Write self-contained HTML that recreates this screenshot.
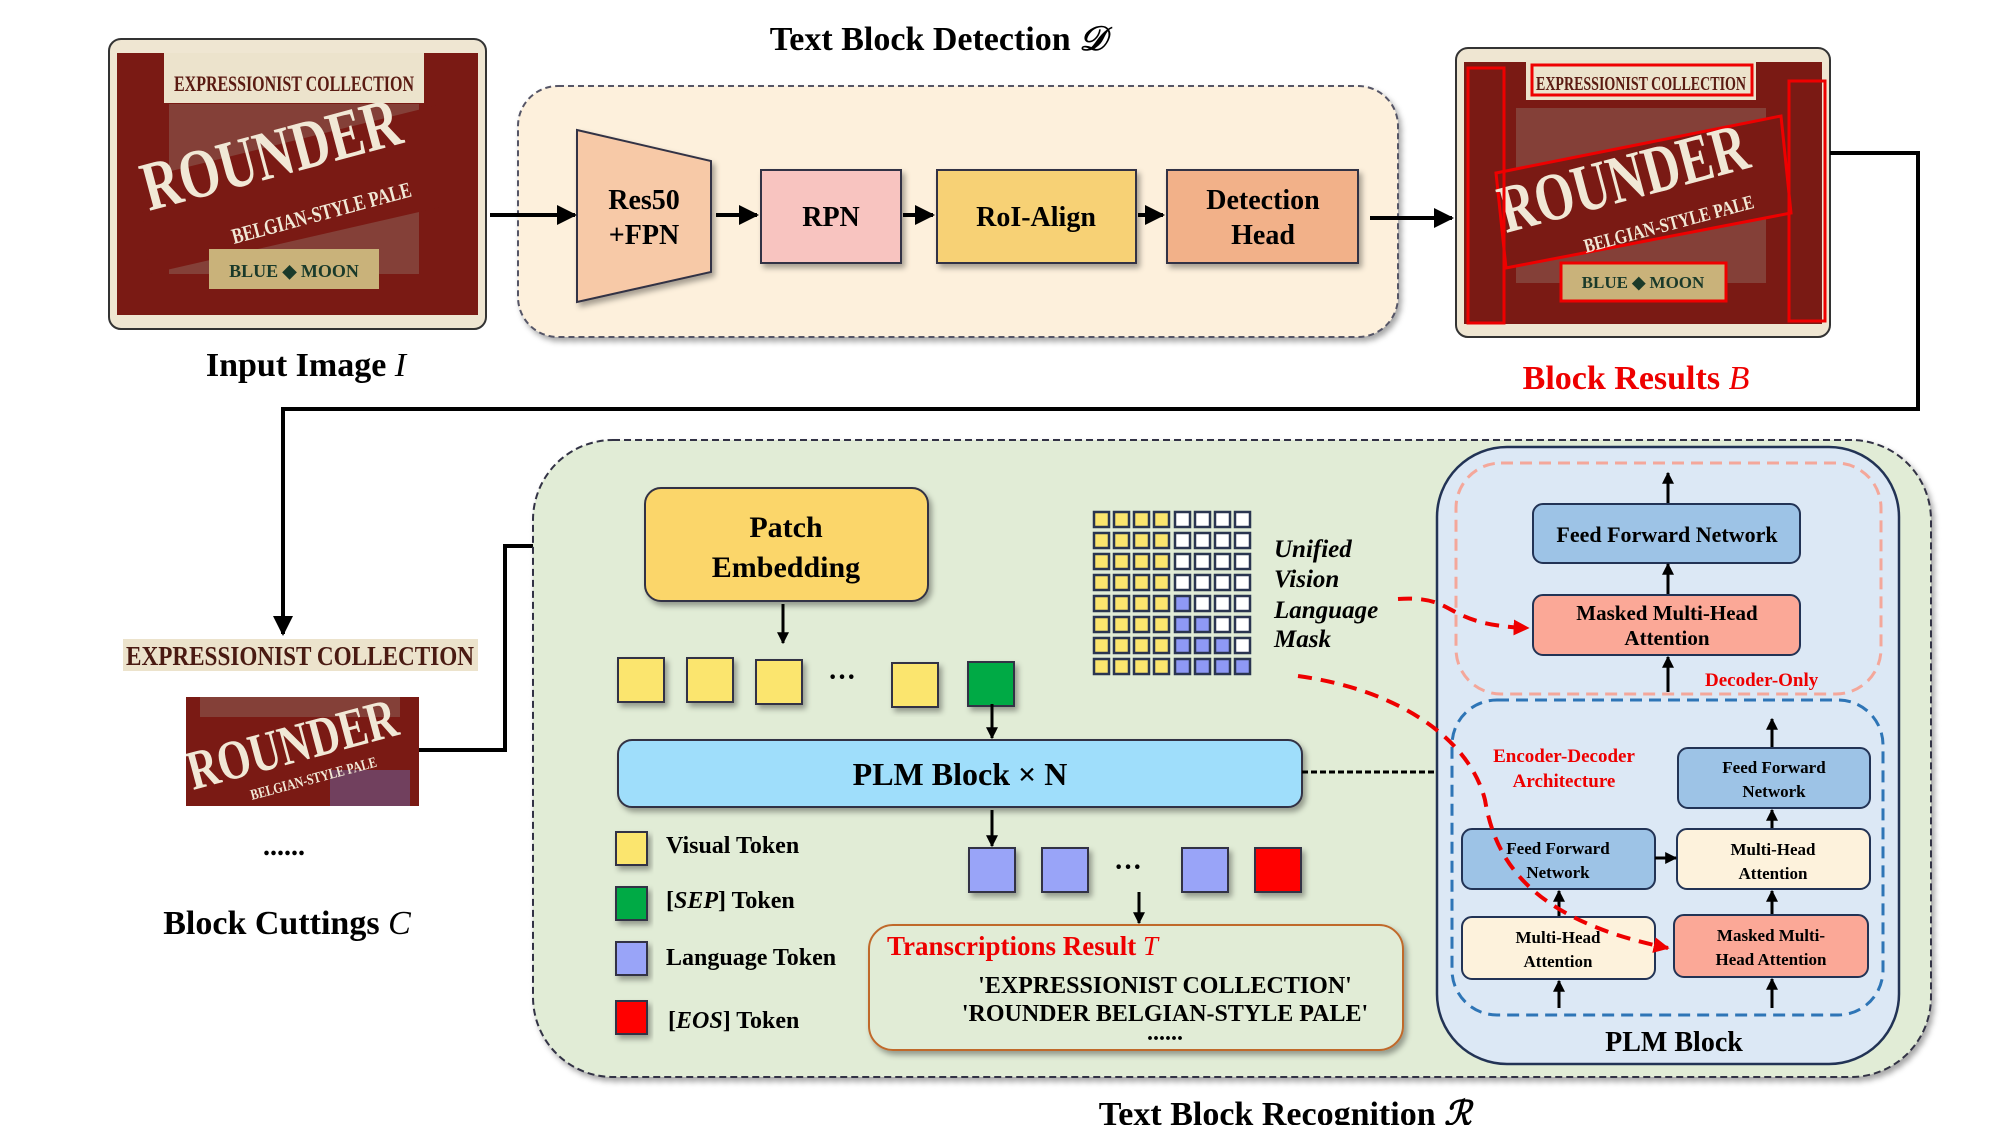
<!DOCTYPE html>
<html><head><meta charset="utf-8"><style>
html,body{margin:0;padding:0;background:#fff;width:2000px;height:1125px;overflow:hidden}
svg{display:block}
text{font-family:"Liberation Serif",serif;font-weight:bold}
</style></head><body>
<svg width="2000" height="1125" viewBox="0 0 2000 1125" xmlns="http://www.w3.org/2000/svg">
<defs>
<marker id="ar" viewBox="0 0 10 10" refX="9" refY="5" markerWidth="5" markerHeight="5" orient="auto"><path d="M0,0L10,5L0,10z" fill="#000"/></marker>
<marker id="ar2" viewBox="0 0 10 10" refX="9" refY="5" markerWidth="4" markerHeight="4" orient="auto"><path d="M0,0L10,5L0,10z" fill="#000"/></marker>
<marker id="rr" viewBox="0 0 10 10" refX="9" refY="5" markerWidth="4" markerHeight="4" orient="auto"><path d="M0,0L10,5L0,10z" fill="#e00"/></marker>
<filter id="sh" x="-10%" y="-10%" width="130%" height="130%"><feDropShadow dx="3" dy="4" stdDeviation="3" flood-opacity="0.35"/></filter>
<clipPath id="cc"><rect x="186" y="697" width="233" height="109"/></clipPath>
</defs>

<!-- Input image -->
<g transform="translate(109,39)">
<rect width="377" height="290" rx="12" fill="#efe6d2" stroke="#333" stroke-width="2"/>
<rect x="8" y="14" width="361" height="262" fill="#7a1a14"/>
<rect x="60" y="65" width="250" height="170" fill="#8a5a50" opacity="0.6"/>
<rect x="55" y="14" width="260" height="50" fill="#ece3cc"/>
<text x="65" y="52" font-size="22" fill="#5a1a12" textLength="240" lengthAdjust="spacingAndGlyphs" font-family="Liberation Sans">EXPRESSIONIST COLLECTION</text>
<path d="M30,140 L345,62 L345,165 L40,235z" fill="#7a1a14"/>
<text transform="translate(40,172) rotate(-15)" font-size="70" fill="#f1e8d6" textLength="265" lengthAdjust="spacingAndGlyphs">ROUNDER</text>
<text transform="translate(125,205) rotate(-15)" font-size="22" fill="#f1e8d6" textLength="185" lengthAdjust="spacingAndGlyphs">BELGIAN-STYLE PALE</text>
<rect x="100" y="210" width="170" height="40" fill="#c9b27a"/>
<text x="185" y="238" font-size="18" fill="#1a3a2a" text-anchor="middle">BLUE ◆ MOON</text>
</g>
<text x="306" y="376" font-size="34" text-anchor="middle">Input Image <tspan font-style="italic" font-weight="normal">I</tspan></text>

<text x="938" y="50" font-size="34" text-anchor="middle">Text Block Detection <tspan font-style="italic">𝒟</tspan></text>

<rect x="518" y="86" width="880" height="251" rx="40" fill="#fdf0dc" stroke="#556" stroke-width="2" stroke-dasharray="6,4" filter="url(#sh)"/>
<polygon points="577,130 711,161 711,272 577,302" fill="#f7c9a7" stroke="#334" stroke-width="2" filter="url(#sh)"/>
<text x="644" y="209" font-size="28" text-anchor="middle">Res50</text>
<text x="644" y="244" font-size="28" text-anchor="middle">+FPN</text>
<rect x="761" y="170" width="140" height="93" fill="#f8c4c0" stroke="#334" stroke-width="2" filter="url(#sh)"/>
<text x="831" y="226" font-size="28" text-anchor="middle">RPN</text>
<rect x="937" y="170" width="199" height="93" fill="#f7d175" stroke="#334" stroke-width="2" filter="url(#sh)"/>
<text x="1036" y="226" font-size="28" text-anchor="middle">RoI-Align</text>
<rect x="1167" y="170" width="191" height="93" fill="#f2b189" stroke="#334" stroke-width="2" filter="url(#sh)"/>
<text x="1263" y="209" font-size="28" text-anchor="middle">Detection</text>
<text x="1263" y="244" font-size="28" text-anchor="middle">Head</text>
<g stroke="#000" stroke-width="4" fill="none" marker-end="url(#ar)">
<line x1="490" y1="215" x2="575" y2="215"/>
<line x1="716" y1="215" x2="757" y2="215"/>
<line x1="903" y1="215" x2="933" y2="215"/>
<line x1="1138" y1="215" x2="1163" y2="215"/>
<line x1="1370" y1="218" x2="1452" y2="218"/>
</g>

<!-- Block results image -->
<g transform="translate(1456,48)">
<rect width="374" height="289" rx="12" fill="#efe6d2" stroke="#333" stroke-width="2"/>
<rect x="8" y="14" width="358" height="262" fill="#7a1a14"/>
<rect x="60" y="60" width="250" height="175" fill="#8a5a50" opacity="0.6"/>
<rect x="70" y="12" width="230" height="40" fill="#ece3cc"/>
<text x="80" y="42" font-size="20" fill="#5a1a12" textLength="210" lengthAdjust="spacingAndGlyphs" font-family="Liberation Sans">EXPRESSIONIST COLLECTION</text>
<rect x="76" y="17" width="220" height="30" fill="none" stroke="#e00" stroke-width="3"/>
<path d="M40,125 L325,68 L335,165 L50,220z" fill="#7a1a14" stroke="#e00" stroke-width="3"/>
<text transform="translate(50,185) rotate(-15)" font-size="68" fill="#f1e8d6" textLength="255" lengthAdjust="spacingAndGlyphs">ROUNDER</text>
<text transform="translate(130,205) rotate(-15)" font-size="20" fill="#f1e8d6" textLength="175" lengthAdjust="spacingAndGlyphs">BELGIAN-STYLE PALE</text>
<rect x="105" y="215" width="165" height="38" fill="#c9b27a" stroke="#e00" stroke-width="3"/>
<text x="187" y="240" font-size="17" fill="#1a3a2a" text-anchor="middle">BLUE ◆ MOON</text>
<rect x="12" y="20" width="36" height="255" fill="none" stroke="#e00" stroke-width="3"/>
<rect x="333" y="33" width="36" height="240" fill="none" stroke="#e00" stroke-width="3"/>
</g>
<text x="1636" y="389" font-size="34" fill="#e00" text-anchor="middle">Block Results <tspan font-style="italic" font-weight="normal">B</tspan></text>

<polyline points="1830,153 1918,153 1918,409 283,409 283,634" fill="none" stroke="#000" stroke-width="4" marker-end="url(#ar)"/>

<!-- Block cuttings -->
<rect x="123" y="639" width="355" height="32" fill="#ece3cc"/>
<text x="126" y="665" font-size="27" fill="#4a1a12" textLength="348" lengthAdjust="spacingAndGlyphs" font-family="Liberation Sans">EXPRESSIONIST COLLECTION</text>
<g clip-path="url(#cc)">
<rect x="186" y="697" width="233" height="109" fill="#7a1a14"/>
<rect x="200" y="697" width="200" height="20" fill="#8a5a50" opacity="0.6"/>
<rect x="330" y="770" width="80" height="36" fill="#6a5a90" opacity="0.6"/>
<text transform="translate(193,790) rotate(-15)" font-size="56" fill="#f1e8d6" textLength="215" lengthAdjust="spacingAndGlyphs">ROUNDER</text>
<text transform="translate(252,800) rotate(-15)" font-size="15" fill="#f1e8d6" textLength="130" lengthAdjust="spacingAndGlyphs">BELGIAN-STYLE PALE</text>
</g>
<text x="284" y="855" font-size="28" text-anchor="middle">......</text>
<text x="287" y="934" font-size="34" text-anchor="middle">Block Cuttings <tspan font-style="italic" font-weight="normal">C</tspan></text>
<polyline points="419,750 505,750 505,546 636,546" fill="none" stroke="#000" stroke-width="4" marker-end="url(#ar)"/>

<!-- Recognition box -->
<rect x="533" y="440" width="1398" height="637" rx="80" fill="#e1ecd6" stroke="#334" stroke-width="2" stroke-dasharray="7,4" filter="url(#sh)"/>
<text x="1285" y="1125" font-size="34" text-anchor="middle">Text Block Recognition <tspan font-style="italic">ℛ</tspan></text>

<rect x="645" y="488" width="283" height="113" rx="16" fill="#fbd66a" stroke="#334" stroke-width="2" filter="url(#sh)"/>
<text x="786" y="537" font-size="30" text-anchor="middle">Patch</text>
<text x="786" y="577" font-size="30" text-anchor="middle">Embedding</text>
<line x1="783" y1="604" x2="783" y2="643" stroke="#000" stroke-width="3" marker-end="url(#ar2)"/>

<g stroke="#334" stroke-width="2" filter="url(#sh)">
<rect x="618" y="658" width="46" height="44" fill="#fbe56e"/>
<rect x="687" y="658" width="46" height="44" fill="#fbe56e"/>
<rect x="756" y="660" width="46" height="44" fill="#fbe56e"/>
<rect x="892" y="663" width="46" height="44" fill="#fbe56e"/>
<rect x="968" y="662" width="46" height="44" fill="#00aa44"/>
</g>
<text x="842" y="686" font-size="28" text-anchor="middle">···</text>
<line x1="992" y1="704" x2="992" y2="738" stroke="#000" stroke-width="3" marker-end="url(#ar2)"/>

<rect x="618" y="740" width="684" height="67" rx="14" fill="#9fdefb" stroke="#334" stroke-width="2" filter="url(#sh)"/>
<text x="960" y="785" font-size="32" text-anchor="middle">PLM Block × N</text>
<line x1="1302" y1="772" x2="1437" y2="772" stroke="#000" stroke-width="3" stroke-dasharray="6,3"/>
<line x1="992" y1="810" x2="992" y2="846" stroke="#000" stroke-width="3" marker-end="url(#ar2)"/>

<g stroke="#334" stroke-width="2" filter="url(#sh)">
<rect x="616" y="832" width="31" height="33" fill="#fbe56e"/>
<rect x="616" y="887" width="31" height="33" fill="#00aa44"/>
<rect x="616" y="942" width="31" height="33" fill="#99a4f8"/>
<rect x="616" y="1001" width="31" height="33" fill="#f00"/>
</g>
<g font-size="24">
<text x="666" y="853">Visual Token</text>
<text x="666" y="908">[<tspan font-style="italic">SEP</tspan>] Token</text>
<text x="666" y="965">Language Token</text>
<text x="668" y="1028">[<tspan font-style="italic">EOS</tspan>] Token</text>
</g>

<g stroke="#334" stroke-width="2" filter="url(#sh)">
<rect x="969" y="848" width="46" height="44" fill="#99a4f8"/>
<rect x="1042" y="848" width="46" height="44" fill="#99a4f8"/>
<rect x="1182" y="848" width="46" height="44" fill="#99a4f8"/>
<rect x="1255" y="848" width="46" height="44" fill="#f00"/>
</g>
<text x="1128" y="876" font-size="28" text-anchor="middle">···</text>
<line x1="1139" y1="892" x2="1139" y2="923" stroke="#000" stroke-width="3" marker-end="url(#ar2)"/>

<rect x="869" y="925" width="534" height="125" rx="24" fill="#e1ecd6" stroke="#c0692a" stroke-width="2" filter="url(#sh)"/>
<text x="887" y="955" font-size="27" fill="#e00">Transcriptions Result <tspan font-style="italic" font-weight="normal">T</tspan></text>
<text x="1165" y="993" font-size="24" text-anchor="middle" font-weight="normal" font-family="Liberation Sans">'EXPRESSIONIST COLLECTION'</text>
<text x="1165" y="1021" font-size="24" text-anchor="middle" font-weight="normal" font-family="Liberation Sans">'ROUNDER BELGIAN-STYLE PALE'</text>
<text x="1165" y="1040" font-size="24" text-anchor="middle">......</text>

<g stroke="#2a3550" stroke-width="2.5">
<g fill="#fbe56e">
<rect x="1094" y="512" width="15" height="15"/><rect x="1114" y="512" width="15" height="15"/><rect x="1134" y="512" width="15" height="15"/><rect x="1154" y="512" width="15" height="15"/>
<rect x="1094" y="533" width="15" height="15"/><rect x="1114" y="533" width="15" height="15"/><rect x="1134" y="533" width="15" height="15"/><rect x="1154" y="533" width="15" height="15"/>
<rect x="1094" y="554" width="15" height="15"/><rect x="1114" y="554" width="15" height="15"/><rect x="1134" y="554" width="15" height="15"/><rect x="1154" y="554" width="15" height="15"/>
<rect x="1094" y="575" width="15" height="15"/><rect x="1114" y="575" width="15" height="15"/><rect x="1134" y="575" width="15" height="15"/><rect x="1154" y="575" width="15" height="15"/>
<rect x="1094" y="596" width="15" height="15"/><rect x="1114" y="596" width="15" height="15"/><rect x="1134" y="596" width="15" height="15"/><rect x="1154" y="596" width="15" height="15"/>
<rect x="1094" y="617" width="15" height="15"/><rect x="1114" y="617" width="15" height="15"/><rect x="1134" y="617" width="15" height="15"/><rect x="1154" y="617" width="15" height="15"/>
<rect x="1094" y="638" width="15" height="15"/><rect x="1114" y="638" width="15" height="15"/><rect x="1134" y="638" width="15" height="15"/><rect x="1154" y="638" width="15" height="15"/>
<rect x="1094" y="659" width="15" height="15"/><rect x="1114" y="659" width="15" height="15"/><rect x="1134" y="659" width="15" height="15"/><rect x="1154" y="659" width="15" height="15"/>
</g>
<g fill="#fff">
<rect x="1175" y="512" width="15" height="15"/><rect x="1195" y="512" width="15" height="15"/><rect x="1215" y="512" width="15" height="15"/><rect x="1235" y="512" width="15" height="15"/>
<rect x="1175" y="533" width="15" height="15"/><rect x="1195" y="533" width="15" height="15"/><rect x="1215" y="533" width="15" height="15"/><rect x="1235" y="533" width="15" height="15"/>
<rect x="1175" y="554" width="15" height="15"/><rect x="1195" y="554" width="15" height="15"/><rect x="1215" y="554" width="15" height="15"/><rect x="1235" y="554" width="15" height="15"/>
<rect x="1175" y="575" width="15" height="15"/><rect x="1195" y="575" width="15" height="15"/><rect x="1215" y="575" width="15" height="15"/><rect x="1235" y="575" width="15" height="15"/>
<rect x="1195" y="596" width="15" height="15"/><rect x="1215" y="596" width="15" height="15"/><rect x="1235" y="596" width="15" height="15"/>
<rect x="1215" y="617" width="15" height="15"/><rect x="1235" y="617" width="15" height="15"/>
<rect x="1235" y="638" width="15" height="15"/>
</g>
<g fill="#8e99f5">
<rect x="1175" y="596" width="15" height="15"/>
<rect x="1175" y="617" width="15" height="15"/><rect x="1195" y="617" width="15" height="15"/>
<rect x="1175" y="638" width="15" height="15"/><rect x="1195" y="638" width="15" height="15"/><rect x="1215" y="638" width="15" height="15"/>
<rect x="1175" y="659" width="15" height="15"/><rect x="1195" y="659" width="15" height="15"/><rect x="1215" y="659" width="15" height="15"/><rect x="1235" y="659" width="15" height="15"/>
</g>
</g>
<g font-size="25" font-style="italic">
<text x="1274" y="557">Unified</text>
<text x="1274" y="587">Vision</text>
<text x="1274" y="618">Language</text>
<text x="1274" y="647">Mask</text>
</g>

<rect x="1437" y="447" width="462" height="617" rx="70" fill="#dce8f5" stroke="#223355" stroke-width="2.5"/>
<rect x="1456" y="463" width="425" height="231" rx="45" fill="none" stroke="#f4a79a" stroke-width="3" stroke-dasharray="12,7"/>
<rect x="1452" y="700" width="431" height="315" rx="45" fill="none" stroke="#2e75b6" stroke-width="3" stroke-dasharray="12,7"/>

<rect x="1533" y="504" width="267" height="59" rx="10" fill="#9dc3e6" stroke="#223355" stroke-width="2"/>
<text x="1667" y="542" font-size="22" text-anchor="middle">Feed Forward Network</text>
<rect x="1533" y="595" width="267" height="60" rx="10" fill="#fba897" stroke="#223355" stroke-width="2"/>
<text x="1667" y="620" font-size="21" text-anchor="middle">Masked Multi-Head</text>
<text x="1667" y="645" font-size="21" text-anchor="middle">Attention</text>
<text x="1705" y="686" font-size="19" fill="#e00">Decoder-Only</text>

<text x="1564" y="762" font-size="19" fill="#e00" text-anchor="middle">Encoder-Decoder</text>
<text x="1564" y="787" font-size="19" fill="#e00" text-anchor="middle">Architecture</text>

<rect x="1678" y="748" width="192" height="60" rx="10" fill="#9dc3e6" stroke="#223355" stroke-width="2"/>
<text x="1774" y="773" font-size="17" text-anchor="middle">Feed Forward</text>
<text x="1774" y="797" font-size="17" text-anchor="middle">Network</text>
<rect x="1462" y="829" width="193" height="60" rx="10" fill="#9dc3e6" stroke="#223355" stroke-width="2"/>
<text x="1558" y="854" font-size="17" text-anchor="middle">Feed Forward</text>
<text x="1558" y="878" font-size="17" text-anchor="middle">Network</text>
<rect x="1677" y="829" width="193" height="60" rx="10" fill="#fdf2dc" stroke="#223355" stroke-width="2"/>
<text x="1773" y="855" font-size="17" text-anchor="middle">Multi-Head</text>
<text x="1773" y="879" font-size="17" text-anchor="middle">Attention</text>
<rect x="1462" y="917" width="193" height="62" rx="10" fill="#fdf2dc" stroke="#223355" stroke-width="2"/>
<text x="1558" y="943" font-size="17" text-anchor="middle">Multi-Head</text>
<text x="1558" y="967" font-size="17" text-anchor="middle">Attention</text>
<rect x="1674" y="915" width="194" height="62" rx="10" fill="#fba897" stroke="#223355" stroke-width="2"/>
<text x="1771" y="941" font-size="17" text-anchor="middle">Masked Multi-</text>
<text x="1771" y="965" font-size="17" text-anchor="middle">Head Attention</text>
<text x="1674" y="1051" font-size="28" text-anchor="middle">PLM Block</text>

<g stroke="#000" stroke-width="3" marker-end="url(#ar2)">
<line x1="1668" y1="503" x2="1668" y2="473"/>
<line x1="1668" y1="594" x2="1668" y2="564"/>
<line x1="1668" y1="692" x2="1668" y2="657"/>
<line x1="1772" y1="747" x2="1772" y2="719"/>
<line x1="1772" y1="828" x2="1772" y2="810"/>
<line x1="1772" y1="914" x2="1772" y2="891"/>
<line x1="1772" y1="1008" x2="1772" y2="979"/>
<line x1="1559" y1="916" x2="1559" y2="891"/>
<line x1="1559" y1="1008" x2="1559" y2="981"/>
<line x1="1655" y1="858" x2="1676" y2="858"/>
</g>

<g fill="none" stroke="#e00" stroke-width="4" stroke-dasharray="14,9" marker-end="url(#rr)">
<path d="M1398,599 C1460,595 1440,625 1528,628"/>
<path d="M1298,676 C1400,690 1470,740 1485,800 C1495,860 1530,920 1668,948"/>
</g>
</svg>
</body></html>
